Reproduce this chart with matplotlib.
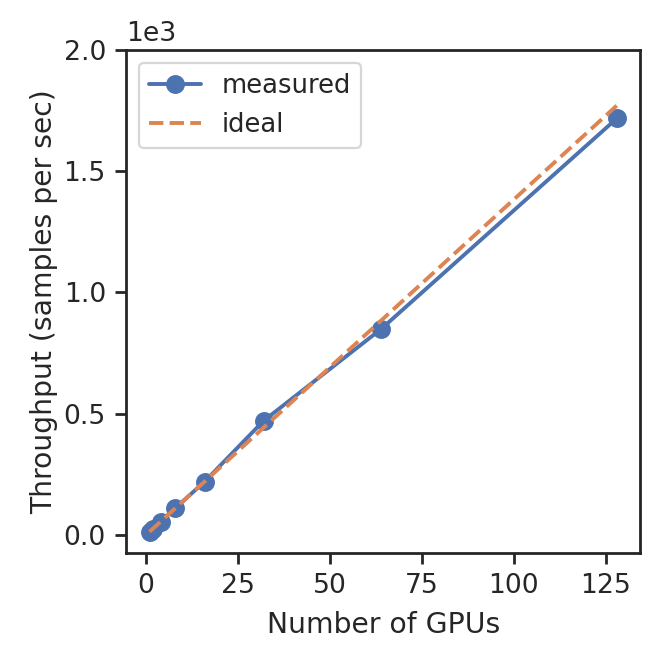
import matplotlib
matplotlib.use("Agg")
import matplotlib.pyplot as plt
import seaborn as sns

# GPUs e throughput
gpus = [1, 2, 4, 8, 16, 32, 64, 128]
medido = [14, 27, 56, 111, 221, 471, 850, 1717]
ideal = [13.8, 27.7, 55.3, 111, 221, 443, 885, 1770]

sns.set_theme(style="ticks", context="paper", palette="deep")
plt.rcParams.update({
    "xtick.labelsize": 9.6,
    "ytick.labelsize": 9.6,
    "axes.labelsize": 10.2,
    "legend.fontsize": 9.3,
    "xtick.major.size": 3.8,
    "ytick.major.size": 3.8,
})

fig, ax = plt.subplots(figsize=(3.32, 3.32), dpi=200)
ax.plot(gpus, medido, marker="o", markersize=5.8, lw=1.4, label="measured")
ax.plot(gpus, ideal, linestyle="--", lw=1.4, label="ideal")

ax.set_ylim(top=2000)
ax.set_yticks([0, 500, 1000, 1500, 2000])
ax.ticklabel_format(axis="y", style="sci", scilimits=(3, 3))
ax.set_xticks([0, 25, 50, 75, 100, 125])
ax.set_xlabel("Number of GPUs")
ax.set_ylabel("Throughput (samples per sec)", labelpad=2)
ax.legend(loc="upper left")

fig.subplots_adjust(left=0.19, right=0.964, top=0.925, bottom=0.167)
fig.savefig("out.png", dpi=200)
